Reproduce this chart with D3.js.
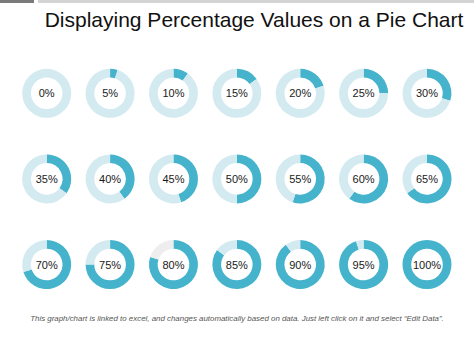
<!DOCTYPE html>
<html>
<head>
<meta charset="utf-8">
<script src="https://cdnjs.cloudflare.com/ajax/libs/d3/7.8.5/d3.min.js"></script>
<style>
html,body{margin:0;padding:0;background:#fff;}
svg{display:block;}
</style>
</head>
<body>
<svg id="chart" width="474" height="355"></svg>
<script>
const title = "Displaying Percentage Values on a Pie Chart";
const footnote = "This graph/chart is linked to excel, and changes automatically based on data. Just left click on it and select \u201cEdit Data\u201d.";
const percentValues = [0,5,10,15,20,25,30,35,40,45,50,55,60,65,70,75,80,85,90,95,100];
const percentLabels = percentValues.map(v => v + "%");

const W = 474, H = 355;
const cols = 7, rows = 3;
const svg = d3.select("#chart");

// top decorative bar
svg.append("rect").attr("x",0).attr("y",0).attr("width",34).attr("height",3).attr("fill","#7a7a7a");
svg.append("rect").attr("x",38).attr("y",0).attr("width",W-38).attr("height",3).attr("fill","#d4d4d4");

svg.append("text")
  .attr("x", 254).attr("y", 27)
  .attr("text-anchor","middle")
  .attr("font-family","Liberation Sans, Arial, sans-serif")
  .attr("font-size", 21)
  .attr("fill","#111")
  .text(title);

const x = d3.scalePoint().domain(d3.range(cols)).range([46.7, 427]);
const y = d3.scalePoint().domain(d3.range(rows)).range([93.3, 264.5]);

const outerR = 24.5, innerR = 15.8;
const arc = d3.arc().innerRadius(innerR).outerRadius(outerR);
const pie = d3.pie().sort(null).value(d => d);

const fillColor = "#44b3cb";
const restColor = "#d3eaf0";
const restOverride = {16: "#eeeeee"};

const g = svg.selectAll("g.donut")
  .data(percentValues)
  .enter().append("g")
  .attr("class","donut")
  .attr("transform", (d,i) => `translate(${x(i % cols)},${y(Math.floor(i / cols))})`);

g.each(function(v, i){
  const sel = d3.select(this);
  const slices = pie([v, 100 - v]);
  sel.selectAll("path").data(slices).enter().append("path")
    .attr("d", arc)
    .attr("fill", (s, j) => j === 0 ? fillColor : (restOverride[i] || restColor));
  sel.append("text")
    .attr("text-anchor","middle")
    .attr("y", 4)
    .attr("font-family","Liberation Sans, Arial, sans-serif")
    .attr("font-size", 11)
    .attr("fill","#1a1a1a")
    .text(percentLabels[i]);
});

svg.append("text")
  .attr("x", 237).attr("y", 320.5)
  .attr("text-anchor","middle")
  .attr("font-family","Liberation Sans, Arial, sans-serif")
  .attr("font-style","italic")
  .attr("font-size", 7.9)
  .attr("fill","#555")
  .text(footnote);
</script>
</body>
</html>
